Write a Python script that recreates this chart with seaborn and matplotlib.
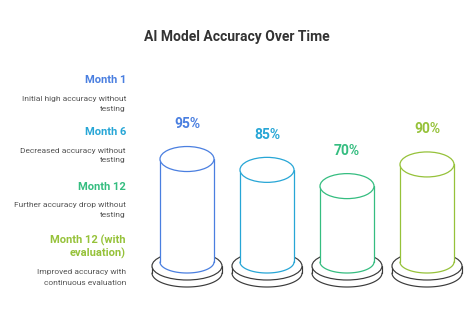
import numpy as np
import matplotlib
matplotlib.use("Agg")
import matplotlib.pyplot as plt
from matplotlib.patches import Ellipse
import seaborn as sns

# ---- data ----
categories = ["Month 1", "Month 6", "Month 12", "Month 12 (with evaluation)"]
values = [95, 85, 70, 90]
value_labels = ["95%", "85%", "70%", "90%"]
heading_lines = [["Month 1"], ["Month 6"], ["Month 12"], ["Month 12 (with", "evaluation)"]]
descriptions = [
    ["Initial high accuracy without", "testing"],
    ["Decreased accuracy without", "testing"],
    ["Further accuracy drop without", "testing"],
    ["Improved accuracy with", "continuous evaluation"],
]
colors = ["#4a7fe0", "#27a6d6", "#35bd80", "#96c23a"]
title = "AI Model Accuracy Over Time"

sns.set_theme(style="white")
plt.rcParams["font.family"] = ["Roboto", "DejaVu Sans"]

W, H = 474, 327
fig = plt.figure(figsize=(W / 100, H / 100), dpi=100)

# axes placement (pixels)
px_per_unit = 1.084
zero_px = 262
ymin, ymax = -30, 140
ax_left, ax_w = 147, 320
ax_bottom_px = zero_px - ymin * px_per_unit
ax_top_px = zero_px - ymax * px_per_unit
ax = fig.add_axes([ax_left / W, (H - ax_bottom_px) / H, ax_w / W,
                   (ax_bottom_px - ax_top_px) / H])

bar_w = 0.675
sns.barplot(x=categories, y=values, color="white", width=bar_w,
            linewidth=0, saturation=1, ax=ax, zorder=3)
ax.set_xlim(-0.5, 3.5)
ax.set_ylim(ymin, ymax)
ax.axis("off")

u = 1.0 / px_per_unit  # data units per pixel (y)
top_h = 25 * u
bot_h = 22 * u
disc_w = 70 / 80.0
disc_h = 28 * u
disc_c = -4 * u
disc_c2 = -11 * u
gray = "#3a3a3a"
lw_c = 0.9

t = np.linspace(np.pi, 2 * np.pi, 100)
for i, p in enumerate(ax.patches):
    cx = p.get_x() + p.get_width() / 2
    w = p.get_width()
    h = p.get_height()
    c = colors[i]
    # base disc
    xs = cx + disc_w / 2 * np.cos(t)
    ys_low = disc_c2 + disc_h / 2 * np.sin(t)
    ax.fill(np.r_[cx - disc_w / 2, xs, cx + disc_w / 2],
            np.r_[disc_c, ys_low, disc_c], color="white", zorder=1, lw=0)
    ax.plot(xs, ys_low, color=gray, lw=0.85, zorder=1.1)
    ax.plot([cx - disc_w / 2] * 2, [disc_c, disc_c2], color=gray, lw=0.85, zorder=1.1)
    ax.plot([cx + disc_w / 2] * 2, [disc_c, disc_c2], color=gray, lw=0.85, zorder=1.1)
    ax.add_patch(Ellipse((cx, disc_c), disc_w, disc_h, facecolor="white",
                         edgecolor=gray, lw=0.85, zorder=2))
    # body bottom (lower half ellipse)
    bx = cx + w / 2 * np.cos(t)
    by = 0 + bot_h / 2 * np.sin(t)
    ax.fill(bx, by, color="white", lw=0, zorder=3)
    ax.plot(bx, by, color=c, lw=lw_c, zorder=4)
    # sides
    ax.plot([cx - w / 2] * 2, [0, h], color=c, lw=lw_c, zorder=4)
    ax.plot([cx + w / 2] * 2, [0, h], color=c, lw=lw_c, zorder=4)
    # top ellipse
    ax.add_patch(Ellipse((cx, h), w, top_h, facecolor="white",
                         edgecolor=c, lw=lw_c, zorder=5))
    # value label
    ax.text(cx, h + 35 * u, value_labels[i], ha="center", va="center",
            color=c, fontsize=10, fontweight="bold", zorder=6)

# title
fig.text(237 / W, 1 - 37 / H, title, ha="center", va="center",
         fontsize=10, fontweight="bold", color="#333333")

# left legend text
head_y = [[80], [132], [187], [240, 253]]
desc_y = [[99, 109], [151, 160], [205, 215], [272, 283]]
right_x = 126
for i in range(4):
    for line, y in zip(heading_lines[i], head_y[i]):
        fig.text(right_x / W, 1 - y / H, line, ha="right", va="center",
                 fontsize=8, fontweight="bold", color=colors[i])
    for line, y in zip(descriptions[i], desc_y[i]):
        fig.text(right_x / W, 1 - y / H, line, ha="right", va="center",
                 fontsize=6, color="#555555")

fig.savefig("out.png", dpi=100, facecolor="white")
